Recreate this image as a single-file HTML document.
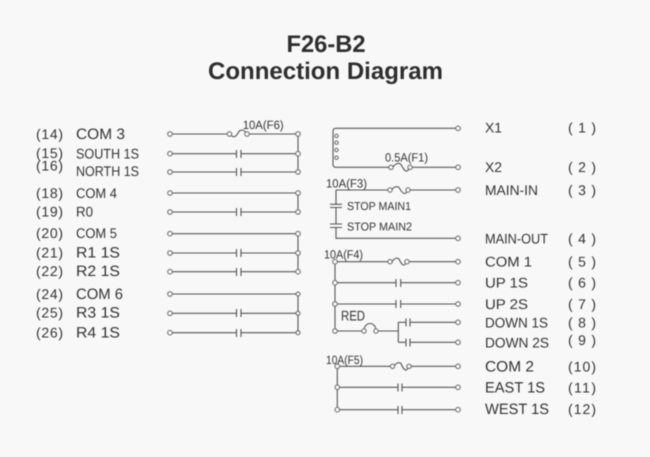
<!DOCTYPE html>
<html><head><meta charset="utf-8"><style>
html,body{margin:0;padding:0;background:#f8f8f8;width:650px;height:457px;overflow:hidden}
svg{display:block;filter:blur(.4px)}
text{font-family:"Liberation Sans",sans-serif;fill:#333;font-size:14px;text-rendering:geometricPrecision}
.t{font-weight:bold;font-size:24px;fill:#2e2e2e}
.s{font-size:11.5px}
.f{font-size:12px}
.b{font-size:15px}
.l{fill:none;stroke:#555;stroke-width:1.1}
.c{fill:#f8f8f8;stroke:#666;stroke-width:1}
</style></head><body>
<svg width="650" height="457" viewBox="0 0 650 457" xmlns="http://www.w3.org/2000/svg">
<rect width="650" height="457" fill="#f8f8f8"/>
<text class="t" x="286.5" y="52" textLength="79" lengthAdjust="spacingAndGlyphs">F26-B2</text>
<text class="t" x="208" y="79" textLength="235" lengthAdjust="spacingAndGlyphs">Connection Diagram</text>

<g class="l">
<path d="M170 134H229M247 134H298V172"/><path d="M231 135C233 138 236 137 238 133C240 129 244 129 247 134"/>
<path d="M170 153.7H236.5M241 153.7H298M236.5 150V158M241 150V158"/>
<path d="M170 172H236.5M241 172H298M236.5 168V176M241 168V176"/>
<path d="M170 193H298V212"/>
<path d="M170 212H236.5M241 212H298M236.5 208V216M241 208V216"/>
<path d="M170 233.7H298V271.7"/>
<path d="M170 253H236.5M241 253H298M236.5 249V257M241 249V257"/>
<path d="M170 271.7H236.5M241 271.7H298M236.5 268V276M241 268V276"/>
<path d="M170 294H298V332.7"/>
<path d="M170 313.3H236.5M241 313.3H298M236.5 309V317M241 309V317"/>
<path d="M170 332.7H236.5M241 332.7H298M236.5 329V337M241 329V337"/>

<path d="M458 128.3H336Q333 128.3 333 131V164.5Q333 167.3 336 167.3H391M410 167.3H458"/>
<path d="M393 167C396 163 399 162.5 401 164.5C403 168 405 172 407 171C409 170 409 168 410 167.3"/>
<path d="M336 190H389M408 190H458M336 190V204.3M336 207.5V224M336 227.5V238.3H458"/>
<path d="M330 204.3H342M330 207.5H342M330 224H342M330 227.5H342"/>
<path d="M391.5 190C394 186.5 397 186 399 187.5C401 191 403 194 405 193.5C407 193 407 191 408 190"/>
<path d="M335 261.7H389.7M407 261.7H458M335 261.7V331"/>
<path d="M392 261.7C394.5 258 397 257.5 399 259C400.5 262 402 265.5 404 265C406 264.5 406 262.5 407 261.7"/>
<path d="M335 282.7H396M400.7 282.7H458M396 279V287M400.7 279V287"/>
<path d="M335 304H396M400.7 304H458M396 300V308M400.7 300V308"/>
<path d="M335 331H364M376 331H398.3M364 331C364 321 376 321 376 331"/>
<path d="M398.3 322.3V342.3M398.3 322.3H406M410 322.3H458M406 318.5V326.5M410 318.5V326.5"/>
<path d="M398.3 342.3H406M410 342.3H458M406 338.5V346.5M410 338.5V346.5"/>
<path d="M337.3 366.3H392.3M409 366.3H458M337.3 366.3V409.7"/>
<path d="M394 366.3C396.5 362.5 399 362 401 363.5C402.5 367 404 370.5 406 370C408 369.5 408 367 409 366.3"/>
<path d="M337.3 387.3H398M402 387.3H458M398 383.5V391.5M402 383.5V391.5"/>
<path d="M337.3 409.7H398M402 409.7H458M398 406V414M402 406V414"/>
</g>

<g class="c">
<circle cx="170" cy="134" r="2.3"/><circle cx="170" cy="153.7" r="2.3"/><circle cx="170" cy="172" r="2.3"/><circle cx="170" cy="193" r="2.3"/><circle cx="170" cy="212" r="2.3"/><circle cx="170" cy="233.7" r="2.3"/><circle cx="170" cy="253" r="2.3"/><circle cx="170" cy="271.7" r="2.3"/><circle cx="170" cy="294" r="2.3"/><circle cx="170" cy="313.3" r="2.3"/><circle cx="170" cy="332.7" r="2.3"/>
<circle cx="298" cy="134" r="2.3"/><circle cx="298" cy="153.7" r="2.3"/><circle cx="298" cy="172" r="2.3"/><circle cx="298" cy="193" r="2.3"/><circle cx="298" cy="212" r="2.3"/><circle cx="298" cy="233.7" r="2.3"/><circle cx="298" cy="253" r="2.3"/><circle cx="298" cy="271.7" r="2.3"/><circle cx="298" cy="294" r="2"/><circle cx="298" cy="313.3" r="2"/><circle cx="298" cy="332.7" r="2"/>
<circle cx="229.5" cy="134" r="2.3"/><circle cx="247" cy="134" r="2.3"/>
<circle cx="458" cy="128.3" r="2.3"/><circle cx="458" cy="167.3" r="2.3"/><circle cx="458" cy="190" r="2.3"/><circle cx="458" cy="238.3" r="2.3"/><circle cx="458" cy="261.7" r="2.3"/><circle cx="458" cy="282.7" r="2.3"/><circle cx="458" cy="304" r="2.3"/><circle cx="458" cy="322.3" r="2.3"/><circle cx="458" cy="342.3" r="2.3"/><circle cx="458" cy="366.3" r="2.3"/><circle cx="458" cy="387.3" r="2.3"/><circle cx="458" cy="409.7" r="2.3"/>
<circle cx="391" cy="167.3" r="2.2"/><circle cx="410" cy="167.3" r="2.2"/>
<circle cx="390" cy="190" r="2.2"/><circle cx="408" cy="190" r="2.2"/>
<circle cx="390" cy="261.7" r="2.2"/><circle cx="407" cy="261.7" r="2.2"/>
<circle cx="364" cy="331" r="2.2"/><circle cx="376" cy="331" r="2.2"/>
<circle cx="392.5" cy="366.3" r="2.2"/><circle cx="409" cy="366.3" r="2.2"/>
<circle cx="335" cy="261.7" r="2.3"/><circle cx="335" cy="282.7" r="2.3"/><circle cx="335" cy="304" r="2.3"/><circle cx="335" cy="331" r="2.3"/>
<circle cx="337.3" cy="366.3" r="2.3"/><circle cx="337.3" cy="387.3" r="2.3"/><circle cx="337.3" cy="409.7" r="2.3"/>
<circle cx="336.5" cy="136" r="1.7"/><circle cx="336.5" cy="142.7" r="1.7"/><circle cx="336.5" cy="150" r="1.7"/><circle cx="336.5" cy="157.7" r="1.7"/>
</g>

<g>
<text x="36" y="139" textLength="27">(14)</text><text class="b" x="76" y="139" textLength="49" lengthAdjust="spacingAndGlyphs">COM 3</text>
<text x="36" y="158" textLength="27">(15)</text><text x="76" y="158.5" textLength="63" lengthAdjust="spacingAndGlyphs">SOUTH 1S</text>
<text x="36" y="170.5" textLength="27">(16)</text><text x="76" y="176" textLength="63" lengthAdjust="spacingAndGlyphs">NORTH 1S</text>
<text x="36" y="198" textLength="27">(18)</text><text x="76" y="198" textLength="41" lengthAdjust="spacingAndGlyphs">COM 4</text>
<text x="36" y="216.7" textLength="27">(19)</text><text x="76" y="216.7" textLength="17" lengthAdjust="spacingAndGlyphs">R0</text>
<text x="36" y="238" textLength="27">(20)</text><text x="76" y="238" textLength="41" lengthAdjust="spacingAndGlyphs">COM 5</text>
<text x="36" y="257.3" textLength="27">(21)</text><text class="b" x="76" y="257.3" textLength="44" lengthAdjust="spacingAndGlyphs">R1  1S</text>
<text x="36" y="276" textLength="27">(22)</text><text class="b" x="76" y="276" textLength="44" lengthAdjust="spacingAndGlyphs">R2  1S</text>
<text x="36" y="299" textLength="27">(24)</text><text class="b" x="76" y="299" textLength="47" lengthAdjust="spacingAndGlyphs">COM 6</text>
<text x="36" y="317.7" textLength="27">(25)</text><text class="b" x="76" y="317.7" textLength="44" lengthAdjust="spacingAndGlyphs">R3  1S</text>
<text x="36" y="337.7" textLength="27">(26)</text><text class="b" x="76" y="337.7" textLength="44" lengthAdjust="spacingAndGlyphs">R4  1S</text>

<text class="f" x="242.7" y="129" textLength="41" lengthAdjust="spacingAndGlyphs">10A(F6)</text>
<text class="f" x="385" y="161.7" textLength="43" lengthAdjust="spacingAndGlyphs">0.5A(F1)</text>
<text class="f" x="326" y="187.3" textLength="41" lengthAdjust="spacingAndGlyphs">10A(F3)</text>
<text class="f" x="324" y="258.3" textLength="39" lengthAdjust="spacingAndGlyphs">10A(F4)</text>
<text class="f" x="326" y="364" textLength="37" lengthAdjust="spacingAndGlyphs">10A(F5)</text>
<text class="s" x="347" y="210" textLength="64" lengthAdjust="spacingAndGlyphs">STOP MAIN1</text>
<text class="s" x="347" y="230.7" textLength="65" lengthAdjust="spacingAndGlyphs">STOP MAIN2</text>
<text x="341" y="320.7" textLength="24" lengthAdjust="spacingAndGlyphs">RED</text>

<text x="485" y="132.7" textLength="17" lengthAdjust="spacingAndGlyphs">X1</text>
<text x="485" y="172" textLength="17" lengthAdjust="spacingAndGlyphs">X2</text>
<text x="485" y="195" textLength="53" lengthAdjust="spacingAndGlyphs">MAIN-IN</text>
<text x="485" y="243.3" textLength="63" lengthAdjust="spacingAndGlyphs">MAIN-OUT</text>
<text x="485" y="266.7" textLength="47" lengthAdjust="spacingAndGlyphs">COM  1</text>
<text x="485" y="287.7" textLength="43" lengthAdjust="spacingAndGlyphs">UP  1S</text>
<text x="485" y="309" textLength="43" lengthAdjust="spacingAndGlyphs">UP  2S</text>
<text x="485" y="327.3" textLength="63" lengthAdjust="spacingAndGlyphs">DOWN 1S</text>
<text x="485" y="347.3" textLength="64" lengthAdjust="spacingAndGlyphs">DOWN 2S</text>
<text class="b" x="485" y="371.7" textLength="49" lengthAdjust="spacingAndGlyphs">COM 2</text>
<text class="b" x="485" y="392.3" textLength="60" lengthAdjust="spacingAndGlyphs">EAST 1S</text>
<text class="b" x="485" y="414" textLength="64" lengthAdjust="spacingAndGlyphs">WEST 1S</text>

<text x="568" y="132.7" textLength="28">( 1 )</text>
<text x="568" y="172" textLength="28">( 2 )</text>
<text x="568" y="195" textLength="28">( 3 )</text>
<text x="568" y="243.3" textLength="28">( 4 )</text>
<text x="568" y="266.7" textLength="28">( 5 )</text>
<text x="568" y="287.7" textLength="28">( 6 )</text>
<text x="568" y="309" textLength="28">( 7 )</text>
<text x="568" y="327.3" textLength="28">( 8 )</text>
<text x="568" y="345" textLength="28">( 9 )</text>
<text x="568" y="371.7" textLength="28">(10)</text>
<text x="568" y="392.3" textLength="28">(11)</text>
<text x="568" y="414" textLength="28">(12)</text>
</g>
</svg>
</body></html>
